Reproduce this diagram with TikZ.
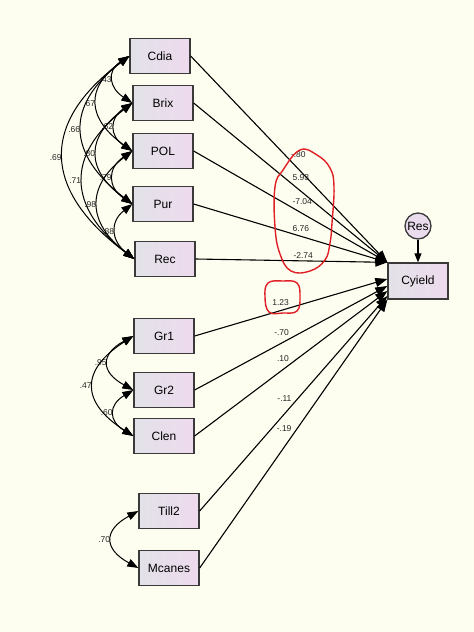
\documentclass[tikz,border=0pt]{standalone}
\usepackage{fontspec}
\setmainfont{Liberation Sans}
\usetikzlibrary{arrows.meta,calc}
\definecolor{paper}{HTML}{FEFEF0}
\definecolor{boxleft}{HTML}{E2E2E8}
\definecolor{boxright}{HTML}{EEDAEE}
\definecolor{boxline}{HTML}{3A3A3A}
\definecolor{markred}{HTML}{E01E26}
\tikzset{
  obs/.style={draw=boxline,line width=1.3pt,left color=boxleft,right color=boxright,
    minimum width=60pt,minimum height=35pt,inner sep=0pt,font=\fontsize{12}{14}\selectfont},
  resid/.style={circle,draw=boxline,line width=1.3pt,fill=boxright!70!boxleft,
    minimum size=26pt,inner sep=0pt,font=\fontsize{12}{14}\selectfont},
  reg/.style={-{Triangle[length=12pt,width=9pt]},line width=1.1pt},
  cov/.style={{Triangle[length=11pt,width=8pt]}-{Triangle[length=11pt,width=8pt]},line width=1pt},
  coef/.style={font=\fontsize{8.5}{10}\selectfont,text=black!85,inner sep=1.5pt},
  scrawl/.style={draw=markred,line width=1.4pt}
}

\begin{document}
\begin{tikzpicture}[x=1pt,y=-1pt]
  \fill[paper] (0,0) rectangle (474,632);
  \useasboundingbox (0,0) rectangle (474,632);

  % observed variables
  \node[obs] (cdia) at (160,56) {Cdia};
  \node[obs] (brix) at (163,103) {Brix};
  \node[obs] (pol) at (163,151) {POL};
  \node[obs] (pur) at (163,204) {Pur};
  \node[obs] (rec) at (165,259) {Rec};
  \node[obs] (gr1) at (164,336) {Gr1};
  \node[obs] (gr2) at (164,390) {Gr2};
  \node[obs] (clen) at (164,436) {Clen};
  \node[obs] (till) at (169,511) {Till2};
  \node[obs] (mcanes) at (169,568) {Mcanes};
  \node[obs,minimum height=36pt] (cy) at (418,281) {Cyield};
  \node[resid] (res) at (418,226) {Res};

  % regression weights
  \draw[reg] (cdia.east) -- (cy.north west) node[midway,coef,anchor=south west] {-.80};
  \draw[reg] (brix.east) -- (cy.north west) node[midway,coef,anchor=south west] {5.93};
  \draw[reg] (pol.east) -- (cy.north west) node[midway,coef,anchor=south west] {-7.04};
  \draw[reg] (pur.east) -- (cy.north west) node[midway,coef,anchor=south west] {6.76};
  \draw[reg] (rec.east) -- (cy.north west) node[midway,coef,anchor=south west] {-2.74};
  \draw[reg] (gr1.east) -- ([yshift=2pt]cy.west) node[midway,coef,anchor=south east] {1.23};
  \draw[reg] (gr2.east) -- ([yshift=-5pt]cy.west) node[midway,coef,anchor=south east] {-.70};
  \draw[reg] (clen.east) -- ([yshift=-10pt]cy.west) node[midway,coef,anchor=south east] {.10};
  \draw[reg] (till.east) -- ([yshift=-15pt]cy.west) node[midway,coef,anchor=south east] {-.11};
  \draw[reg] (mcanes.east) -- (cy.south west) node[midway,coef,anchor=south east] {-.19};
  \draw[-{Triangle[length=9pt,width=7pt]},line width=1.1pt] (res.south) -- (cy.north);

  % covariances
  \draw[cov] (cdia.west) .. controls +(-23,15) and +(-23,-15) .. (brix.west) node[midway,coef,anchor=east] {.43};
  \draw[cov] (brix.west) .. controls +(-23,15) and +(-23,-15) .. (pol.west) node[midway,coef,anchor=east] {.62};
  \draw[cov] (pol.west) .. controls +(-25,17) and +(-25,-17) .. (pur.west) node[midway,coef,anchor=east] {.79};
  \draw[cov] (pur.west) .. controls +(-23,18) and +(-23,-18) .. (rec.west) node[midway,coef,anchor=east] {.88};
  \draw[cov] (cdia.west) .. controls +(-45,32) and +(-45,-32) .. (pol.west) node[midway,coef,anchor=east] {.67};
  \draw[cov] (brix.west) .. controls +(-47,34) and +(-47,-34) .. (pur.west) node[midway,coef,anchor=east] {.80};
  \draw[cov] (pol.west) .. controls +(-47,36) and +(-47,-36) .. (rec.west) node[midway,coef,anchor=east] {.98};
  \draw[cov] (cdia.west) .. controls +(-65,50) and +(-65,-50) .. (pur.west) node[midway,coef,anchor=east] {.66};
  \draw[cov] (brix.west) .. controls +(-67,52) and +(-67,-52) .. (rec.west) node[midway,coef,anchor=east] {.71};
  \draw[cov] (cdia.west) .. controls +(-91,68) and +(-91,-68) .. (rec.west) node[midway,coef,anchor=east] {.69};

  \draw[cov] (gr1.west) .. controls +(-33,18) and +(-33,-18) .. (gr2.west) node[midway,coef,anchor=east] {.95};
  \draw[cov] (gr2.west) .. controls +(-25,15) and +(-25,-15) .. (clen.west) node[midway,coef,anchor=east] {.60};
  \draw[cov] (gr1.west) .. controls +(-53,34) and +(-53,-34) .. (clen.west) node[midway,coef,anchor=east] {.47};
  \draw[cov] (till.west) .. controls +(-35,19) and +(-35,-19) .. (mcanes.west) node[midway,coef,anchor=east] {.70};

  % hand marks
  \draw[scrawl] plot[smooth cycle,tension=0.7] coordinates {(300,150) (317,155) (330,168) (334,187)
    (332,223) (330,243) (325,260) (310,271) (291,271) (280,254) (275,227) (275,187) (283,170)};
  \draw[scrawl] plot[smooth cycle,tension=0.7] coordinates {(268,283) (283,281) (297,283) (300,297)
    (297,311) (283,313) (269,312) (265,297)};
\end{tikzpicture}
\end{document}
